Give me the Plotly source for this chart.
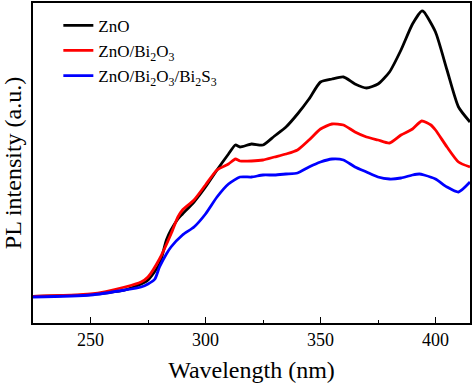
import plotly.graph_objects as go

wavelength = [225, 250, 265, 272, 275, 280, 283, 285, 288, 290, 295, 300, 305, 310, 313, 315, 320, 325,
              330, 335, 340, 345, 350, 355, 360, 365, 370, 375, 380, 385, 390, 394, 395, 400, 405, 410, 415]
zno = [26.7, 28.3, 33, 39, 43, 59, 83, 93, 104, 109, 121, 136, 153, 169, 178, 176, 179, 178,
       187, 196, 209, 224, 241, 244, 246, 239, 235, 239, 251, 273, 299, 312, 311, 291, 253, 216, 201]

wl_red = [225, 250, 265, 272, 275, 280, 285, 288, 290, 295, 300, 305, 310, 313, 315, 320, 325, 330,
          335, 340, 345, 350, 355, 360, 365, 370, 375, 380, 385, 390, 394, 398, 400, 405, 410, 415]
zno_bi2o3 = [26.7, 29, 36, 41, 46, 64, 89, 106, 113, 123, 138, 153, 159, 164, 162, 162, 163, 166,
             169, 173, 183, 194, 199, 198, 191, 186, 183, 180, 188, 194, 202, 198, 193, 176, 161, 156]

wl_blue = [225, 250, 265, 272, 275, 278, 280, 283, 285, 290, 295, 300, 305, 310, 315, 320, 325, 330,
           335, 340, 345, 350, 355, 360, 365, 370, 375, 380, 385, 390, 393, 395, 400, 405, 410, 415]
zno_bi2o3_bi2s3 = [26, 28, 33, 36, 39, 44, 56, 69, 76, 88, 96, 109, 126, 139, 146, 146, 148, 148,
                   149, 150, 156, 161, 164, 163, 156, 151, 146, 144, 145, 148, 149, 148, 144, 136, 131, 141]

names = ["ZnO", "ZnO/Bi<sub>2</sub>O<sub>3</sub>", "ZnO/Bi<sub>2</sub>O<sub>3</sub>/Bi<sub>2</sub>S<sub>3</sub>"]
colors = ["#000000", "#ff0000", "#0000ff"]

fig = go.Figure()
for x, y, n, c in [(wavelength, zno, names[0], colors[0]),
                   (wl_red, zno_bi2o3, names[1], colors[1]),
                   (wl_blue, zno_bi2o3_bi2s3, names[2], colors[2])]:
    fig.add_trace(go.Scatter(x=x, y=y, name=n, mode="lines",
                             line=dict(color=c, width=2.8, shape="spline", smoothing=0.6)))

font_family = "Liberation Serif, Times New Roman, serif"
fig.update_layout(
    width=474, height=385,
    margin=dict(l=33, r=4, t=3, b=62),
    paper_bgcolor="white", plot_bgcolor="white",
    font=dict(family=font_family, color="black"),
    showlegend=True,
    legend=dict(x=0.058, y=0.985, xanchor="left", yanchor="top", bgcolor="rgba(0,0,0,0)",
                font=dict(size=17, family=font_family), tracegroupgap=0, itemwidth=30),
    xaxis=dict(range=[225, 415], tickvals=[250, 300, 350, 400], ticks="inside", ticklen=6,
               tickwidth=1, tickcolor="black",
               minor=dict(tickvals=[275, 325, 375], ticks="inside", ticklen=3, tickcolor="black"),
               showline=True, linecolor="black", linewidth=1.5, mirror=True, showgrid=False,
               zeroline=False, tickfont=dict(size=18), automargin=False,
               title=dict(text="Wavelength (nm)", font=dict(size=24), standoff=12)),
    yaxis=dict(range=[0, 320], showticklabels=False, ticks="", showline=True, linecolor="black",
               linewidth=1.5, mirror=True, showgrid=False, zeroline=False, automargin=False,
               title=dict(text="PL intensity (a.u.)", font=dict(size=24), standoff=6)),
)
fig.write_html("out.html", config={"displayModeBar": False},
               post_script="document.body.style.margin='0';")
